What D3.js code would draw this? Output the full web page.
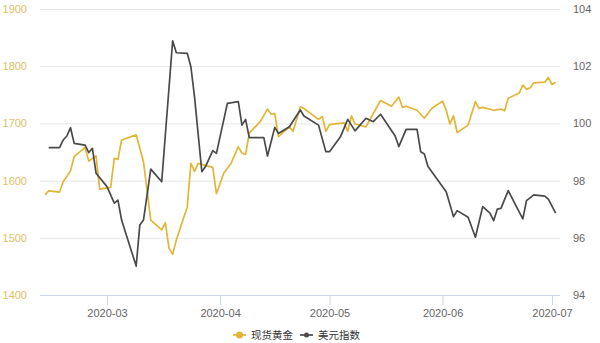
<!DOCTYPE html>
<meta charset="utf-8" />
<script src="https://d3js.org/d3.v7.min.js"></script>
<style>
  body { margin: 0; background: #fff; }
  text { font-family: "Liberation Sans", "Noto Sans CJK SC", sans-serif; }
</style>
<svg width="600" height="343"></svg>
<script>
  // series names
  var seriesNames = ["现货黄金", "美元指数"];
  var seriesColors = ["#e3b536", "#4a4a4a"];

  // 现货黄金 (left axis)
  var goldDates = ["2020-02-13","2020-02-14","2020-02-17","2020-02-18","2020-02-20","2020-02-21","2020-02-24","2020-02-25","2020-02-27","2020-02-28",
    "2020-03-02","2020-03-03","2020-03-04","2020-03-05","2020-03-09","2020-03-11","2020-03-13","2020-03-16","2020-03-17","2020-03-18",
    "2020-03-19","2020-03-20","2020-03-23","2020-03-24","2020-03-25","2020-03-26","2020-03-30","2020-03-31","2020-04-02","2020-04-04",
    "2020-04-06","2020-04-07","2020-04-08","2020-04-09","2020-04-12","2020-04-14","2020-04-15","2020-04-16","2020-04-17","2020-04-20",
    "2020-04-21","2020-04-23","2020-04-24","2020-04-28","2020-04-29","2020-04-30","2020-05-01","2020-05-05","2020-05-06","2020-05-07",
    "2020-05-08","2020-05-11","2020-05-15","2020-05-18","2020-05-20","2020-05-21","2020-05-22","2020-05-25","2020-05-27","2020-05-29",
    "2020-06-01","2020-06-02","2020-06-03","2020-06-04","2020-06-05","2020-06-08","2020-06-10","2020-06-11","2020-06-12","2020-06-15",
    "2020-06-17","2020-06-18","2020-06-19","2020-06-22","2020-06-23","2020-06-24","2020-06-25","2020-06-26","2020-06-29","2020-06-30",
    "2020-07-01","2020-07-02"];
  var goldValues = [1575,1582,1580,1598,1617,1642,1658,1634,1643,1585,
    1588,1639,1637,1671,1680,1633,1531,1514,1526,1482,
    1471,1496,1554,1630,1616,1630,1623,1577,1613,1630,
    1659,1648,1646,1683,1703,1725,1716,1717,1677,1694,
    1686,1729,1726,1707,1712,1686,1698,1701,1686,1713,
    1699,1694,1740,1730,1746,1728,1730,1723,1709,1726,
    1739,1723,1699,1713,1684,1697,1738,1726,1728,1723,
    1725,1722,1744,1753,1767,1760,1762,1771,1772,1780,
    1768,1772];

  // 美元指数 (right axis)
  var usdDates = ["2020-02-14","2020-02-17","2020-02-18","2020-02-19","2020-02-20","2020-02-21","2020-02-24","2020-02-25","2020-02-26","2020-02-27",
    "2020-03-01","2020-03-03","2020-03-04","2020-03-05","2020-03-09","2020-03-10","2020-03-11","2020-03-13","2020-03-16","2020-03-19",
    "2020-03-20","2020-03-23","2020-03-24","2020-03-25","2020-03-27","2020-03-28","2020-03-30","2020-03-31","2020-04-03","2020-04-06",
    "2020-04-07","2020-04-08","2020-04-09","2020-04-13","2020-04-14","2020-04-16","2020-04-17","2020-04-20","2020-04-23","2020-04-24",
    "2020-04-28","2020-04-30","2020-05-01","2020-05-04","2020-05-06","2020-05-08","2020-05-11","2020-05-13","2020-05-15","2020-05-19",
    "2020-05-20","2020-05-22","2020-05-25","2020-05-26","2020-05-27","2020-05-28","2020-06-02","2020-06-04","2020-06-05","2020-06-08",
    "2020-06-10","2020-06-12","2020-06-14","2020-06-15","2020-06-16","2020-06-17","2020-06-19","2020-06-21","2020-06-23","2020-06-24",
    "2020-06-26","2020-06-29","2020-06-30","2020-07-02"];
  var usdValues = [99.15,99.15,99.42,99.56,99.85,99.30,99.24,98.98,99.13,98.26,
    97.79,97.21,97.32,96.62,95.01,96.45,96.62,98.40,97.96,102.89,
    102.47,102.45,101.98,100.93,98.31,98.49,99.05,98.95,100.70,100.76,
    99.94,100.14,99.50,99.50,98.86,99.86,99.65,99.88,100.47,100.26,
    99.94,99.01,99.01,99.53,100.14,99.74,100.18,100.06,100.32,99.56,
    99.19,99.79,99.79,99.01,98.93,98.49,97.61,96.74,96.95,96.72,
    96.02,97.09,96.86,96.60,97.00,97.03,97.65,97.15,96.66,97.30,
    97.50,97.46,97.35,96.86];

  var goldTicks = [1400, 1500, 1600, 1700, 1800, 1900];
  var usdTicks = [94, 96, 98, 100, 102, 104];

  var svg = d3.select("svg"),
    plotLeft = 40, plotRight = 560, plotTop = 9, plotBottom = 295;

  var parse = d3.timeParse("%Y-%m-%d");
  var gold = goldDates.map(function (d, i) { return { date: parse(d), value: goldValues[i] }; });
  var usd = usdDates.map(function (d, i) { return { date: parse(d), value: usdValues[i] }; });

  // x: month starts fall at fixed pixel positions
  var x = d3.scaleTime()
    .domain([new Date(2020, 2, 1), new Date(2020, 6, 1)])
    .range([107, 552]);
  var yGold = d3.scaleLinear().domain([1400, 1900]).range([plotBottom, plotTop]);
  var yUsd = d3.scaleLinear().domain([94, 104]).range([plotBottom, plotTop]);

  // gridlines
  var grid = svg.append("g")
    .attr("transform", "translate(" + plotRight + ",0)")
    .call(d3.axisLeft(yGold).tickValues(goldTicks).tickSize(plotRight - plotLeft).tickFormat(""));
  grid.select(".domain").remove();
  grid.selectAll("line").attr("stroke", "#e6e6e6");

  // left labels
  var gl = svg.append("g")
    .attr("transform", "translate(" + plotLeft + ",0)")
    .call(d3.axisLeft(yGold).tickValues(goldTicks).tickSize(0).tickPadding(13).tickFormat(d3.format("d")));
  gl.select(".domain").remove();
  gl.selectAll("text").attr("fill", "#e0c064").style("font-size", "11px");

  // right labels
  var gr = svg.append("g")
    .attr("transform", "translate(" + plotRight + ",0)")
    .call(d3.axisRight(yUsd).tickValues(usdTicks).tickSize(0).tickPadding(13).tickFormat(d3.format("d")));
  gr.select(".domain").remove();
  gr.selectAll("text").attr("fill", "#666").style("font-size", "11px");

  // x axis
  var gx = svg.append("g")
    .attr("transform", "translate(0," + plotBottom + ")")
    .call(d3.axisBottom(x).ticks(d3.timeMonth.every(1)).tickFormat(d3.timeFormat("%Y-%m")).tickSize(10).tickSizeOuter(0).tickPadding(4));
  gx.select(".domain").attr("d", "M" + plotLeft + ",0.5H" + plotRight).attr("stroke", "#ccd6eb");
  gx.selectAll("line").attr("stroke", "#ccd6eb");
  gx.selectAll("text").attr("fill", "#666").style("font-size", "11px");

  // lines
  var goldLine = d3.line().x(function (d) { return x(d.date); }).y(function (d) { return yGold(d.value); });
  var usdLine = d3.line().x(function (d) { return x(d.date); }).y(function (d) { return yUsd(d.value); });

  svg.append("path").datum(gold)
    .attr("d", goldLine)
    .attr("fill", "none")
    .attr("stroke", seriesColors[0])
    .attr("stroke-width", 1.7)
    .attr("stroke-linejoin", "round");

  svg.append("path").datum(usd)
    .attr("d", usdLine)
    .attr("fill", "none")
    .attr("stroke", seriesColors[1])
    .attr("stroke-width", 1.7)
    .attr("stroke-linejoin", "round");

  // legend
  var legendX = [233, 300];
  var legend = svg.append("g").selectAll("g")
    .data(seriesNames)
    .enter().append("g")
    .attr("transform", function (d, i) { return "translate(" + legendX[i] + ",335)"; });
  legend.append("line")
    .attr("x1", 0).attr("x2", 13).attr("y1", 0).attr("y2", 0)
    .attr("stroke", function (d, i) { return seriesColors[i]; })
    .attr("stroke-width", 1.7);
  legend.append("circle")
    .attr("cx", 6.5).attr("cy", 0)
    .attr("r", function (d, i) { return i === 0 ? 3.5 : 2.5; })
    .attr("fill", function (d, i) { return seriesColors[i]; });
  legend.append("text")
    .attr("x", 18).attr("y", 0)
    .attr("dy", "0.35em")
    .attr("fill", "#333")
    .style("font-size", "10.5px")
    .text(function (d) { return d; });
</script>
